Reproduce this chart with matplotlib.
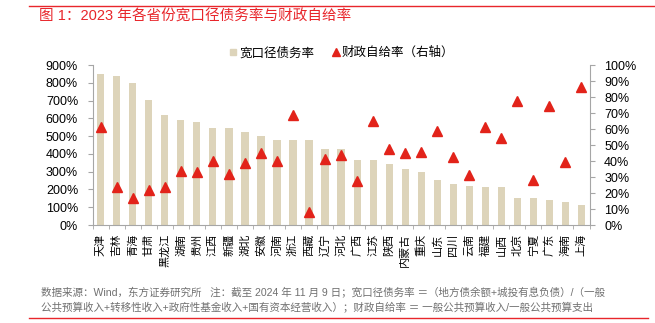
import matplotlib
matplotlib.use("Agg")
import matplotlib.pyplot as plt
from matplotlib.lines import Line2D
from matplotlib.ticker import FuncFormatter, MultipleLocator
import numpy as np

plt.rcParams["font.family"] = ["Liberation Sans", "Noto Sans CJK SC", "DejaVu Sans"]

provinces = ["天津", "吉林", "青海", "甘肃", "黑龙江", "湖南", "贵州", "江西", "新疆", "湖北",
             "安徽", "河南", "浙江", "西藏", "辽宁", "河北", "广西", "江苏", "陕西", "内蒙古",
             "重庆", "山东", "四川", "云南", "福建", "山西", "北京", "宁夏", "广东", "海南", "上海"]
# 宽口径债务率 (%)
debt_ratio = [850, 838, 800, 701, 619, 593, 579, 546, 544, 521,
              503, 478, 478, 476, 429, 426, 368, 366, 343, 313,
              298, 253, 229, 218, 216, 212, 152, 152, 139, 129, 111]
# 财政自给率 (%, right axis)
self_sufficiency = [61.5, 24, 17, 22, 23.5, 34, 33, 40, 32, 39,
                    45, 40, 69, 8, 41.5, 44, 27.7, 65, 47.7, 44.8,
                    45.6, 59, 42.7, 31.5, 61, 54.4, 77.5, 28.3, 74.6, 39.6, 86]

title = "图 1：2023 年各省份宽口径债务率与财政自给率"
note_1 = ("数据来源：Wind，东方证券研究所   注：截至 2024 年 11 月 9 日；宽口径债务率 ＝（地方债余额"
          "+城投有息负债）/（一般")
note_2 = ("公共预算收入+转移性收入+政府性基金收入+国有资本经营收入）；财政自给率 ＝ 一般公共预算收入"
          "/一般公共预算支出")

bar_color = "#DDD4BA"
tri_color = "#E2231A"
red = "#E8262B"
axis_gray = "#A6A6A6"

W, H = 655, 323
fig = plt.figure(figsize=(W / 100, H / 100), dpi=100)
ax = fig.add_axes([92.7 / W, 1 - 225 / H, (589.5 - 92.7) / W, 160 / H])
ax2 = ax.twinx()

x = np.arange(len(provinces))
ax.bar(x, debt_ratio, width=0.45, color=bar_color, zorder=2)
ax2.plot(x, self_sufficiency, linestyle="none", marker="^", markersize=7,
         color=tri_color, zorder=3)

ax.set_xlim(-0.5, len(provinces) - 0.5)
ax.set_ylim(0, 900)
ax2.set_ylim(0, 100)
ax.yaxis.set_major_locator(MultipleLocator(100))
ax2.yaxis.set_major_locator(MultipleLocator(10))
pct = FuncFormatter(lambda v, _: f"{v:.0f}%")
ax.yaxis.set_major_formatter(pct)
ax2.yaxis.set_major_formatter(pct)

ax.set_xticks(x)
ax.set_xticklabels(provinces, rotation=90, fontsize=8, va="top", ha="center")
ax.set_xticks(np.arange(len(provinces) + 1) - 0.5, minor=True)
ax.tick_params(axis="x", which="major", length=0, pad=6)
ax.tick_params(axis="x", which="minor", length=3, color=axis_gray, direction="out")
ax.tick_params(axis="y", length=3.5, color=axis_gray, labelsize=9, pad=7)
ax2.tick_params(axis="y", length=3.5, color=axis_gray, labelsize=9, pad=7)

for a in (ax, ax2):
    a.spines["top"].set_visible(False)
    for s in ("left", "right", "bottom"):
        a.spines[s].set_color(axis_gray)
        a.spines[s].set_linewidth(0.8)
ax.spines["right"].set_visible(False)
ax2.spines["left"].set_visible(False)
ax2.spines["bottom"].set_visible(False)

handles = [
    Line2D([], [], linestyle="none", marker="s", markersize=5, color=bar_color),
    Line2D([], [], linestyle="none", marker="^", markersize=5.5, color=tri_color),
]
fig.legend(handles, ["宽口径债务率", "财政自给率（右轴）"], loc="center",
           bbox_to_anchor=(342 / W, 1 - 53 / H), ncol=2, frameon=False,
           fontsize=9, handlelength=0.6, handletextpad=0.2, columnspacing=1.4)

fig.text(39 / W, 1 - 17 / H, title, color=red, fontsize=10.5, fontweight="medium",
         va="center", ha="left")
fig.add_artist(Line2D([29 / W, 1.0], [1 - 6 / H, 1 - 6 / H], color=red, linewidth=1))
fig.text(41 / W, 1 - 293 / H, note_1, color="#707070", fontsize=7.6, va="center", ha="left")
fig.text(41 / W, 1 - 308 / H, note_2, color="#707070", fontsize=7.6, va="center", ha="left")
fig.add_artist(Line2D([29 / W, 648 / W], [1 - 318 / H, 1 - 318 / H], color=red, linewidth=1))

fig.savefig("out.png", dpi=100)
